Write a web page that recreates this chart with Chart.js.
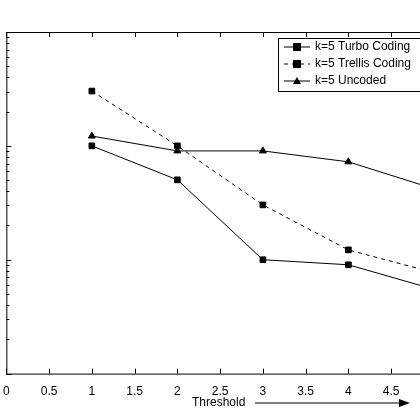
<!DOCTYPE html>
<html>
<head>
<script src="https://cdn.jsdelivr.net/npm/chart.js@4"></script>
<style>
body { margin: 0; overflow: hidden; background: #fff; }
#wrap { width: 488px; height: 420px; }
</style>
</head>
<body>
<div id="wrap"><canvas id="c"></canvas></div>
<script>
// dados
const thresholds = [1, 2, 3, 4, 5];
const turbo = [0.1, 0.0503, 0.01, 0.00903, 0.0055];
const trellis = [0.303, 0.1, 0.0303, 0.0122, 0.0077];
const uncoded = [0.122, 0.0903, 0.0903, 0.0724, 0.042];
const xTicks = [0, 0.5, 1, 1.5, 2, 2.5, 3, 3.5, 4, 4.5, 5, 5.5];
const seriesNames = ['k=5 Turbo Coding', 'k=5 Trellis Coding', 'k=5 Uncoded'];

function pts(vals) {
    return thresholds.map((x, i) => ({ x: x, y: vals[i] }));
}

// eixos estilo MATLAB: marcas internas, caixa, legenda e seta
const frame = {
    id: 'frame',
    afterDraw(chart) {
        const ctx = chart.ctx;
        const a = chart.chartArea;
        const xs = chart.scales.x, ys = chart.scales.y;
        ctx.save();
        ctx.strokeStyle = '#000';
        ctx.lineWidth = 1;
        ctx.strokeRect(a.left + 0.5, a.top + 0.5, a.right - a.left, a.bottom - a.top);
        ctx.beginPath();
        xTicks.forEach(v => {
            const px = Math.round(xs.getPixelForValue(v)) + 0.5;
            ctx.moveTo(px, a.bottom); ctx.lineTo(px, a.bottom - 5);
            ctx.moveTo(px, a.top); ctx.lineTo(px, a.top + 5);
        });
        for (let d = -3; d < 0; d++) {
            for (let m = 1; m <= 9; m++) {
                const py = Math.round(ys.getPixelForValue(m * Math.pow(10, d))) + 0.5;
                const len = m === 1 ? 5 : 3;
                ctx.moveTo(a.left, py); ctx.lineTo(a.left + len, py);
            }
        }
        ctx.stroke();

        // legenda
        const lx = 278, ly = 38, lw = 150, lh = 53;
        ctx.fillStyle = '#fff';
        ctx.fillRect(lx, ly, lw, lh);
        ctx.strokeRect(lx + 0.5, ly + 0.5, lw, lh);
        ctx.font = '12px Arial, "Liberation Sans"';
        ctx.textBaseline = 'middle';
        const ds = chart.data.datasets;
        for (let i = 0; i < 3; i++) {
            const y = ly + 9 + i * 17;
            ctx.beginPath();
            ctx.setLineDash(ds[i].borderDash || []);
            ctx.moveTo(lx + 6, y); ctx.lineTo(lx + 32, y);
            ctx.stroke();
            ctx.setLineDash([]);
            ctx.fillStyle = '#000';
            if (ds[i].pointStyle === 'triangle') {
                ctx.beginPath();
                ctx.moveTo(lx + 19, y - 4); ctx.lineTo(lx + 23, y + 3); ctx.lineTo(lx + 15, y + 3);
                ctx.fill();
            } else {
                ctx.fillRect(lx + 15, y - 4, 8, 8);
            }
            ctx.fillText(seriesNames[i], lx + 37, y);
        }

        // título do eixo x com seta
        ctx.textAlign = 'left';
        ctx.fillText('Threshold', 192, 403);
        ctx.beginPath();
        ctx.moveTo(255, 403); ctx.lineTo(400, 403);
        ctx.stroke();
        ctx.beginPath();
        ctx.moveTo(410, 403); ctx.lineTo(399, 399); ctx.lineTo(399, 407);
        ctx.fill();
        ctx.restore();
    }
};

new Chart(document.getElementById('c'), {
    type: 'line',
    data: {
        datasets: [
            { label: seriesNames[0], data: pts(turbo), borderColor: '#000', backgroundColor: '#000',
              borderWidth: 1, pointStyle: 'rect', pointRadius: 4, tension: 0 },
            { label: seriesNames[1], data: pts(trellis), borderColor: '#000', backgroundColor: '#000',
              borderWidth: 1, borderDash: [4, 4], pointStyle: 'rect', pointRadius: 4, tension: 0 },
            { label: seriesNames[2], data: pts(uncoded), borderColor: '#000', backgroundColor: '#000',
              borderWidth: 1, pointStyle: 'triangle', pointRadius: 4, tension: 0 }
        ]
    },
    options: {
        responsive: true,
        maintainAspectRatio: false,
        animation: false,
        layout: { padding: { left: 0, top: 32, right: 3, bottom: 18 } },
        plugins: { legend: { display: false }, tooltip: { enabled: false } },
        scales: {
            x: {
                type: 'linear', min: 0, max: 5.5,
                grid: { display: false },
                border: { display: false },
                afterBuildTicks: s => { s.ticks = xTicks.map(v => ({ value: v })); },
                ticks: { color: '#000', font: { size: 12, family: 'Arial' }, padding: 3, maxRotation: 0,
                         callback: v => String(v) }
            },
            y: {
                type: 'logarithmic', min: 0.001, max: 1,
                grid: { display: false, drawTicks: false },
                border: { display: false },
                ticks: { display: false },
                afterFit: s => { s.width = 0; }
            }
        }
    },
    plugins: [frame]
});
</script>
</body>
</html>
